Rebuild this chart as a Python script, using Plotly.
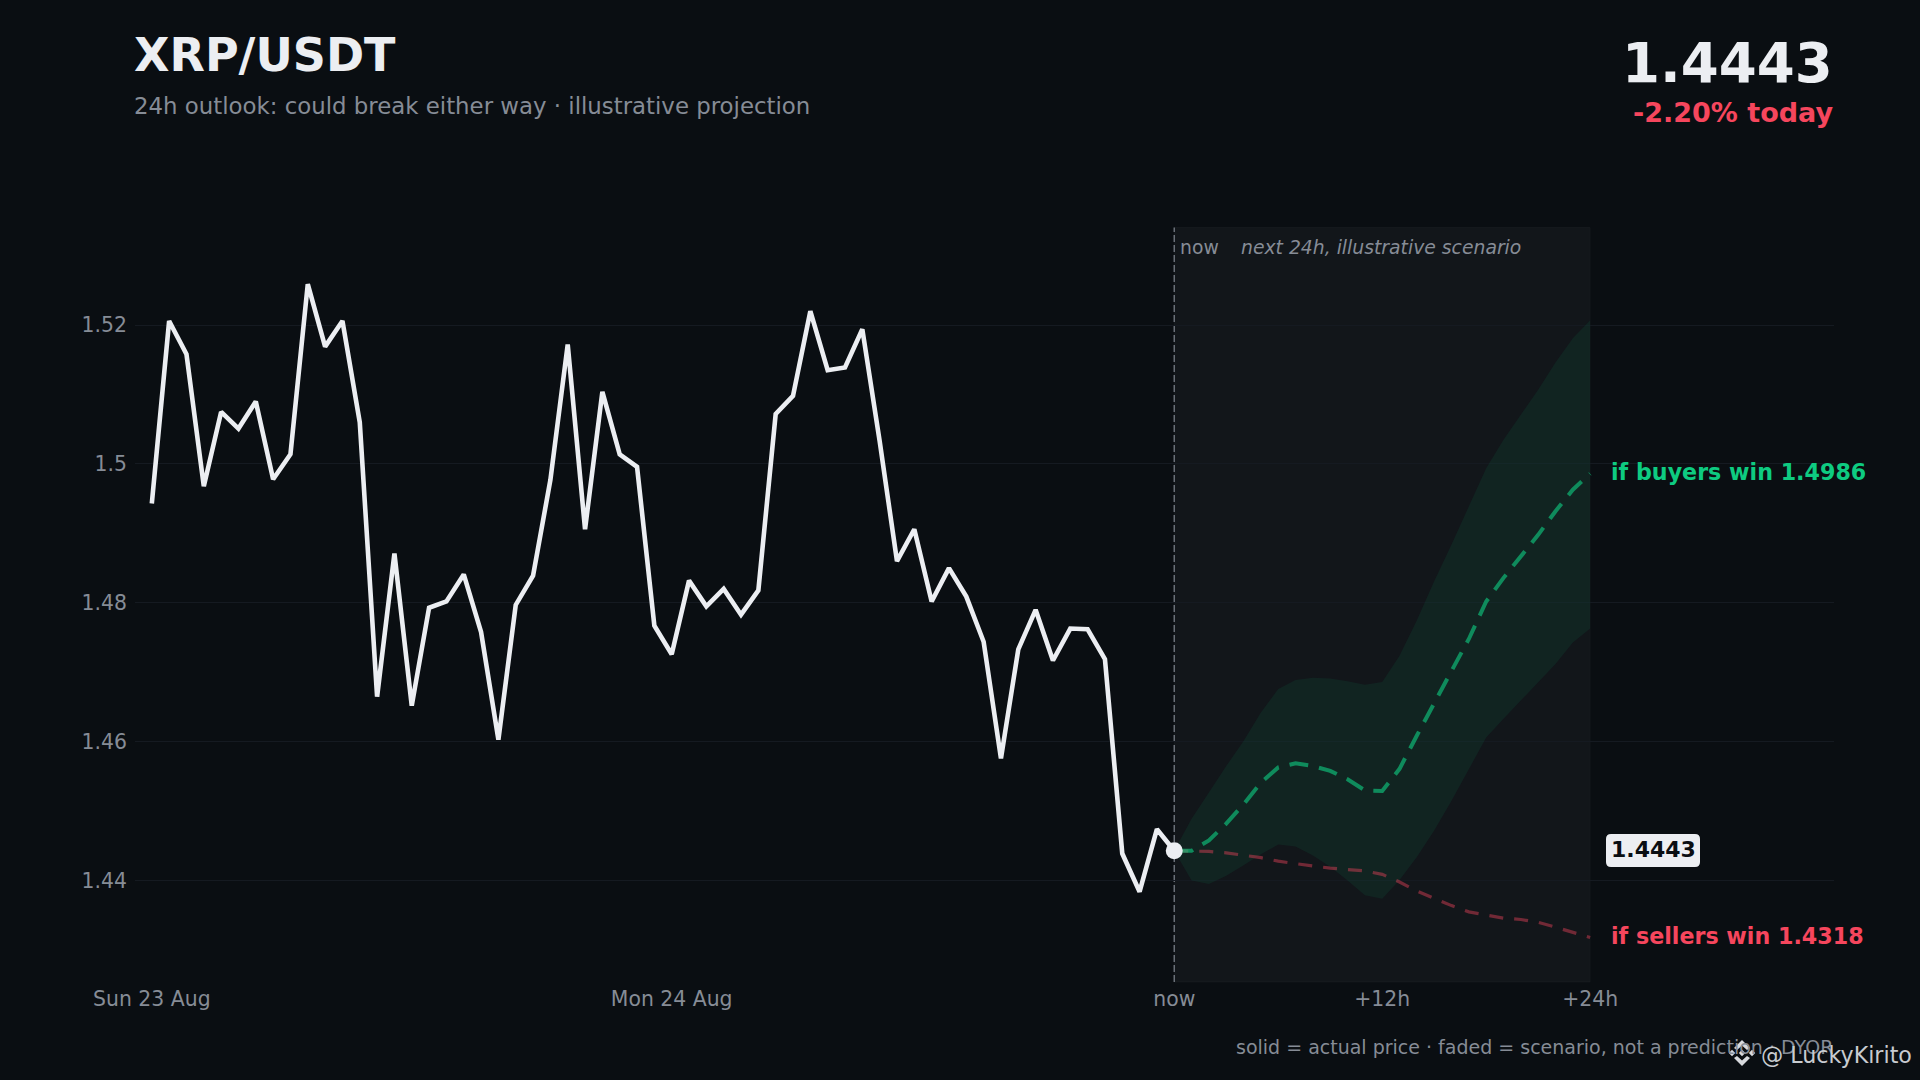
import plotly.graph_objects as go

# Price history, one point per step
price = [
    1.4943, 1.5206, 1.5158, 1.4968, 1.5075, 1.5051, 1.5090, 1.4978, 1.5014, 1.5259,
    1.5169, 1.5206, 1.5060, 1.4665, 1.4871, 1.4652, 1.4793, 1.4802, 1.4841, 1.4758,
    1.4603, 1.4797, 1.4839, 1.4977, 1.5172, 1.4906, 1.5104, 1.5014, 1.4996, 1.4767,
    1.4726, 1.4832, 1.4795, 1.4820, 1.4783, 1.4818, 1.5072, 1.5098, 1.5220, 1.5135,
    1.5139, 1.5194, 1.5033, 1.4860, 1.4906, 1.4802, 1.4850, 1.4809, 1.4744, 1.4576,
    1.4733, 1.4790, 1.4717, 1.4763, 1.4762, 1.4719, 1.4439, 1.4384, 1.4474, 1.4443,
]

# Scenario paths for the next 24 steps (first value is the current price)
buyers = [
    1.4443, 1.4443, 1.4458, 1.4482, 1.4510, 1.4541, 1.4563, 1.4569, 1.4565, 1.4558,
    1.4546, 1.4530, 1.4529, 1.4561, 1.4609, 1.4657, 1.4702, 1.4748, 1.4802, 1.4836,
    1.4867, 1.4898, 1.4932, 1.4963, 1.4986,
]
sellers = [
    1.4443, 1.4443, 1.4442, 1.4440, 1.4437, 1.4433, 1.4428, 1.4424, 1.4421, 1.4418,
    1.4416, 1.4414, 1.4409, 1.4398, 1.4385, 1.4374, 1.4364, 1.4355, 1.4350, 1.4346,
    1.4344, 1.4340, 1.4333, 1.4326, 1.4318,
]
band_upper = [
    1.4443, 1.4489, 1.4527, 1.4565, 1.4601, 1.4642, 1.4676, 1.4689, 1.4692, 1.4691,
    1.4687, 1.4682, 1.4686, 1.4724, 1.4775, 1.4831, 1.4884, 1.4939, 1.4994, 1.5035,
    1.5071, 1.5107, 1.5146, 1.5181, 1.5207,
]
band_lower = [
    1.4443, 1.4400, 1.4395, 1.4407, 1.4422, 1.4438, 1.4452, 1.4449, 1.4436, 1.4420,
    1.4400, 1.4379, 1.4374, 1.4401, 1.4434, 1.4472, 1.4515, 1.4561, 1.4606, 1.4633,
    1.4659, 1.4685, 1.4712, 1.4743, 1.4763,
]

x_ticks = [0, 30, 59, 71, 83]
x_labels = ["Sun 23 Aug", "Mon 24 Aug", "now", "+12h", "+24h"]
y_ticks = [1.44, 1.46, 1.48, 1.50, 1.52]
y_labels = ["1.44", "1.46", "1.48", "1.5", "1.52"]

BG = "#0a0e12"
WHITE = "#eceef2"
GREY = "#868c96"
GREEN = "#0ecb81"
RED = "#f6465d"
GRID = "#151a21"
FONT = "DejaVu Sans"

W, H = 1920, 1080


# Pixel position on the page -> paper fraction
def px(x):
    return x / W


def py(y):
    return 1 - y / H


x_hist = list(range(len(price)))
now = x_hist[-1]
x_fut = [now + i for i in range(len(buyers))]

fig = go.Figure()

# Scenario band
fig.add_trace(go.Scatter(x=x_fut, y=band_lower, mode="lines", line=dict(width=0), hoverinfo="skip"))
fig.add_trace(go.Scatter(
    x=x_fut, y=band_upper, mode="lines", line=dict(width=0),
    fill="tonexty", fillcolor="rgba(14,203,129,0.08)", hoverinfo="skip",
))

# Scenario lines
fig.add_trace(go.Scatter(
    x=x_fut, y=sellers, mode="lines",
    line=dict(color="rgba(246,70,93,0.42)", width=3.2, dash="14px,11px"),
))
fig.add_trace(go.Scatter(
    x=x_fut, y=buyers, mode="lines",
    line=dict(color="rgba(14,203,129,0.62)", width=4, dash="19px,11px"),
))

# Actual price
fig.add_trace(go.Scatter(x=x_hist, y=price, mode="lines", line=dict(color=WHITE, width=4.6)))
fig.add_trace(go.Scatter(
    x=[now], y=[price[-1]], mode="markers",
    marker=dict(color=WHITE, size=17),
))

fig.update_layout(
    width=W,
    height=H,
    autosize=False,
    showlegend=False,
    paper_bgcolor=BG,
    plot_bgcolor=BG,
    margin=dict(l=0, r=0, t=0, b=0),
    font=dict(family=FONT, color=GREY, size=20),
    xaxis=dict(
        domain=[px(135), px(1834)],
        range=[-0.97, 97.07],
        automargin=False,
        tickmode="array",
        tickvals=x_ticks,
        ticktext=x_labels,
        showgrid=False,
        zeroline=False,
        showline=False,
        ticks="",
        ticklabelstandoff=3,
        tickfont=dict(size=20.4, color=GREY),
    ),
    yaxis=dict(
        domain=[py(982), py(226.5)],
        range=[1.4254, 1.5342],
        automargin=False,
        tickmode="array",
        tickvals=y_ticks,
        ticktext=y_labels,
        showgrid=True,
        gridcolor=GRID,
        gridwidth=1,
        zeroline=False,
        showline=False,
        ticks="outside",
        ticklen=3,
        tickcolor=BG,
        tickfont=dict(size=20.4, color=GREY),
    ),
)

# Projection window and the "now" marker
fig.add_shape(
    type="rect", xref="x", yref="paper",
    x0=now, x1=x_fut[-1], y0=py(982), y1=py(227.5),
    fillcolor="rgba(255,255,255,0.035)", line=dict(color="rgba(255,255,255,0.03)", width=1),
    layer="below",
)
fig.add_shape(
    type="line", xref="x", yref="paper",
    x0=now, x1=now, y0=py(982), y1=py(227.5),
    line=dict(color="#6a7078", width=1.5, dash="7px,3px"),
    layer="below",
)


def rounded_box(x0, y0, x1, y1, r, color):
    path = (
        f"M {px(x0 + r)} {py(y0)} L {px(x1 - r)} {py(y0)} Q {px(x1)} {py(y0)} {px(x1)} {py(y0 + r)} "
        f"L {px(x1)} {py(y1 - r)} Q {px(x1)} {py(y1)} {px(x1 - r)} {py(y1)} "
        f"L {px(x0 + r)} {py(y1)} Q {px(x0)} {py(y1)} {px(x0)} {py(y1 - r)} "
        f"L {px(x0)} {py(y0 + r)} Q {px(x0)} {py(y0)} {px(x0 + r)} {py(y0)} Z"
    )
    fig.add_shape(type="path", xref="paper", yref="paper", path=path, fillcolor=color, line=dict(width=0))


rounded_box(1606, 834, 1700, 867, 5, WHITE)


def label(x, y, text, size, color, anchor="left", bold=False, italic=False):
    if bold:
        text = f"<b>{text}</b>"
    if italic:
        text = f"<i>{text}</i>"
    fig.add_annotation(
        xref="paper", yref="paper", x=px(x), y=py(y), text=text, showarrow=False,
        xanchor=anchor, yanchor="middle", borderpad=0, borderwidth=0,
        font=dict(family=FONT, size=size, color=color),
    )


# Header
label(134, 55, "XRP/USDT", 46, WHITE, bold=True)
label(134, 106, "24h outlook: could break either way · illustrative projection", 22.85, GREY)
label(1833, 63, "1.4443", 54.6, WHITE, anchor="right", bold=True)
label(1833, 112, "-2.20% today", 27, RED, anchor="right", bold=True)

# Window captions
label(1180, 247, "now", 18.8, GREY)
label(1241, 247, "next 24h, illustrative scenario", 18.8, GREY, italic=True)

# End labels
label(1611, 472, "if buyers win 1.4986", 22.2, GREEN, bold=True)
label(1611, 936, "if sellers win 1.4318", 22.2, RED, bold=True)
label(1611, 849, "1.4443", 22, "#0a0e12", bold=True)

# Footer and watermark
label(1833, 1047, "solid = actual price · faded = scenario, not a prediction · DYOR", 19, GREY, anchor="right")
label(1761, 1055, "@ LuckyKirito", 22.2, "#c8cbd0")


# Watermark logo: a small diamond in the middle and at each side, chevrons above and below
def logo_shape(points):
    path = "M " + " L ".join(f"{px(1742 + a)} {py(1053 + b)}" for a, b in points) + " Z"
    fig.add_shape(type="path", xref="paper", yref="paper", path=path, fillcolor="#d8dade", line=dict(width=0))


for cx in (-10, 0, 10):
    logo_shape([(cx - 3.2, 0), (cx, -3.2), (cx + 3.2, 0), (cx, 3.2)])
logo_shape([(-8, -5), (0, -13), (8, -5), (5, -3), (0, -7.5), (-5, -3)])
logo_shape([(-8, 5), (0, 13), (8, 5), (5, 3), (0, 7.5), (-5, 3)])

fig.write_html(
    "out.html",
    config={"displayModeBar": False},
    post_script="document.body.style.margin = '0'; document.body.style.overflow = 'hidden';",
)
